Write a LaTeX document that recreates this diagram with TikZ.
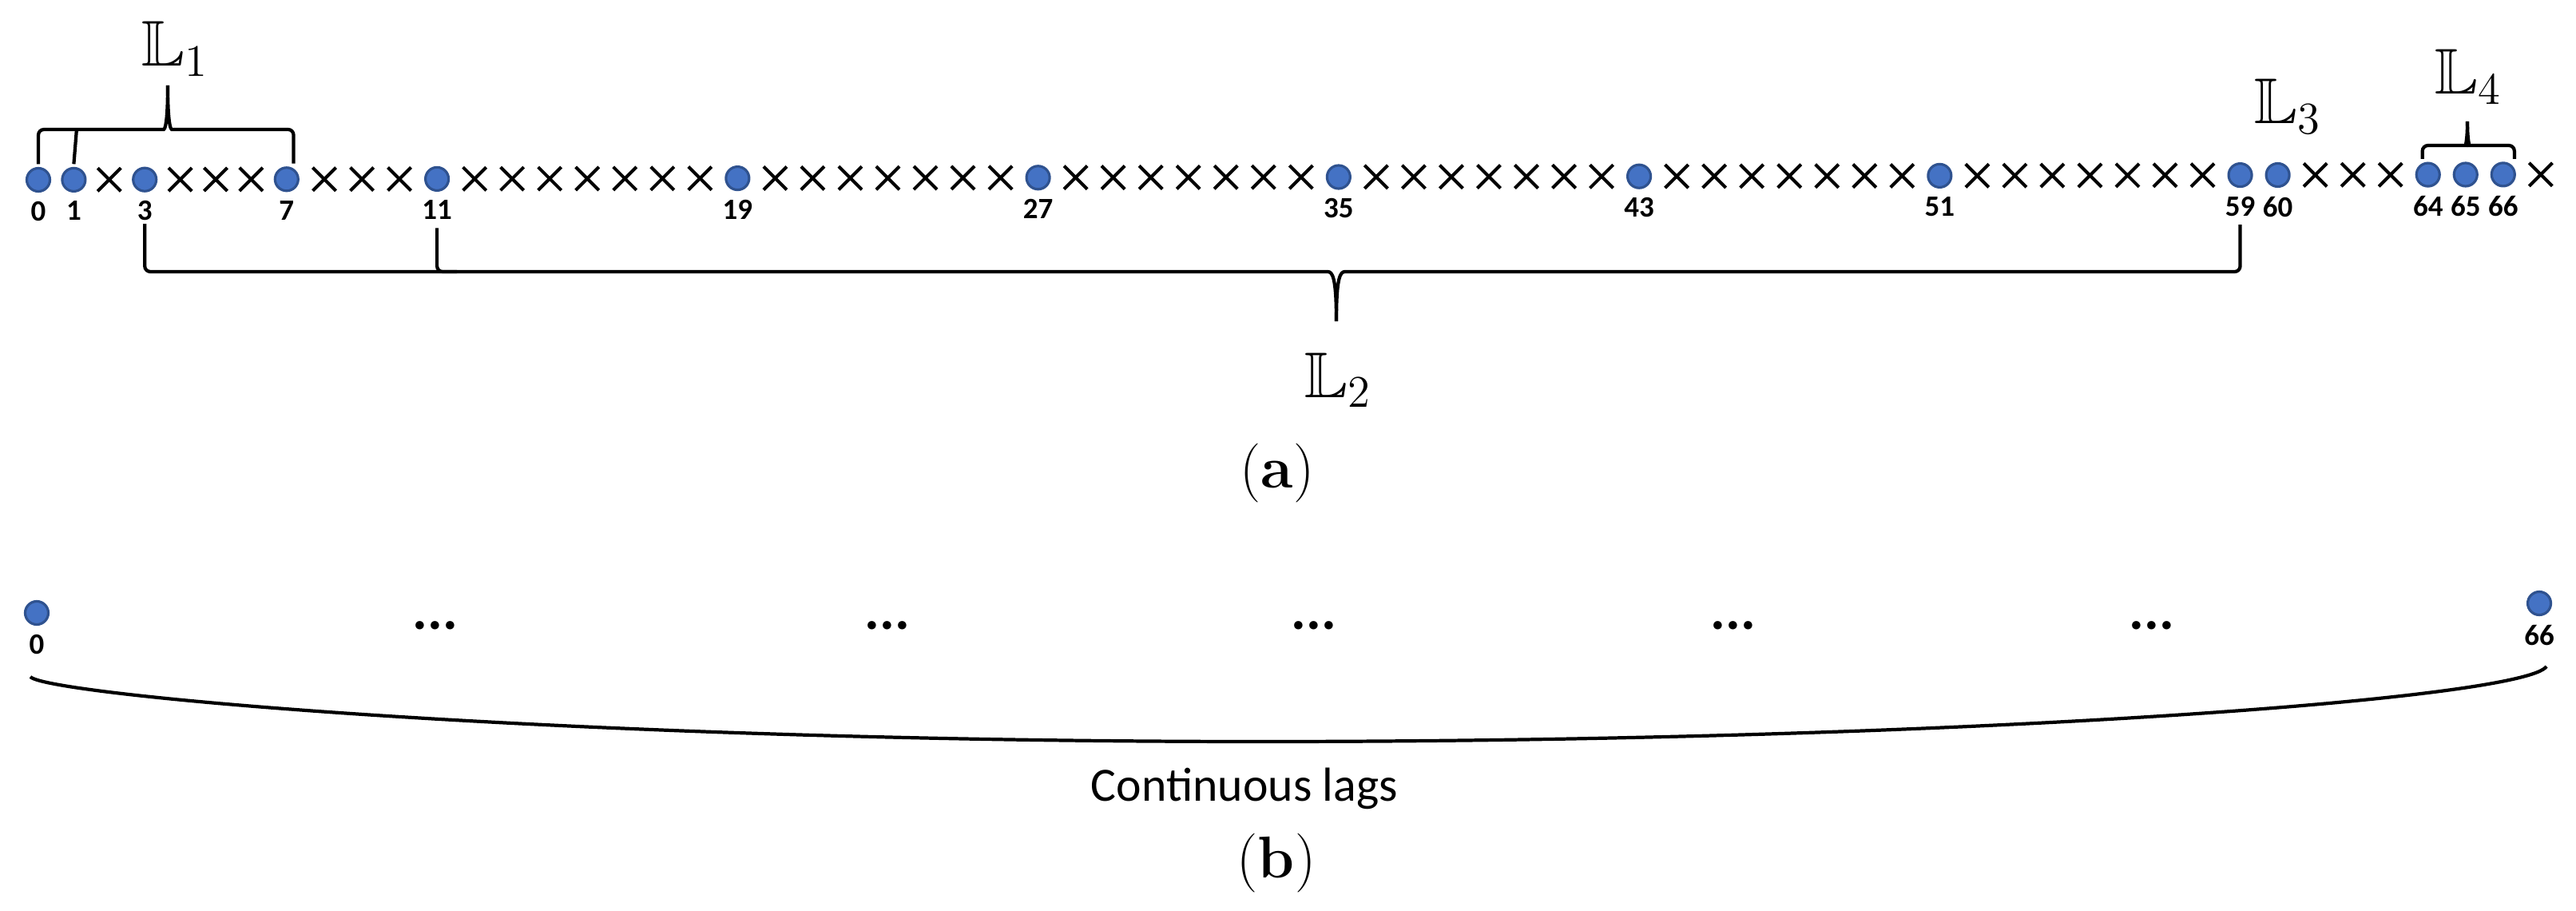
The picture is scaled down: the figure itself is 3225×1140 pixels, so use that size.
\RequirePackage{fix-cm}
\documentclass[tikz,border=0pt]{standalone}
\usepackage{fontspec}
\usepackage{amssymb}
\newfontfamily\calib{Carlito}
\usetikzlibrary{positioning,calc,shapes.misc}
\definecolor{lagblue}{RGB}{68,114,196}
\definecolor{lagedge}{RGB}{47,82,143}

\begin{document}
\begin{tikzpicture}[
  x=0.01cm, y=-0.01cm,
  lag/.style={circle, fill=lagblue, draw=lagedge, line width=0.9pt,
              minimum size=0.29cm, inner sep=0pt},
  miss/.style={cross out, draw, line width=1.15pt, minimum size=0.25cm,
               inner sep=0pt},
  lagnum/.style={font=\calib\bfseries\fontsize{10.5}{12}\selectfont, inner sep=0pt},
  setname/.style={font=\fontsize{23}{26}\selectfont, inner sep=0pt},
  gap/.style={font=\calib\bfseries\fontsize{20}{22}\selectfont, inner sep=0pt},
  bracket/.style={line width=1.2pt},
  panel/.style={font=\fontsize{21}{24}\selectfont, inner sep=0pt},
]
  \useasboundingbox (0,0) rectangle (3225,1140);
  % Panel (a): sampled lags and skipped lags
  \foreach \k in {0,...,67} {
    \pgfmathsetmacro{\lx}{ifthenelse(\k<8, 48+44.4*\k, 359+47.03*(\k-7))}
    \pgfmathsetmacro{\ly}{225-0.1*\k}
    \pgfmathtruncatemacro{\isdot}{ifthenelse(((\k<4) && (\k!=2)) || (\k==7)
      || ((\k>10) && (\k<61) && (mod(\k-11,8)==0)) || (\k==60)
      || ((\k>63) && (\k<67)), 1, 0)}
    \ifnum\isdot=1
      \node[lag] (a\k) at (\lx,\ly) {};
      \node[lagnum, below=1mm of a\k] (la\k) {\k};
    \else
      \node[miss] (x\k) at (\lx,\ly) {};
    \fi
  }
  % Set L1 (above)
  \coordinate (l1) at (0,162);
  \coordinate (t1) at (210,107);
  \draw[bracket] ([yshift=1pt]a0.north) [rounded corners=2pt] |- (198,162)
    [sharp corners] .. controls (206,162) and (210,157) .. (t1);
  \draw[bracket] ([xshift=2.5pt,yshift=1pt]a7.north) [rounded corners=2pt] |- (222,162)
    [sharp corners] .. controls (214,162) and (210,157) .. (t1);
  \draw[bracket] ([yshift=1pt]a1.north) -- ([xshift=1pt]a1.north |- l1);
  \node[setname, anchor=base west] (s1) at (177,83) {$\mathbb{L}_1$};
  % Set L2 (below)
  \coordinate (l2) at (0,340);
  \coordinate (t2) at (1673,402);
  \draw[bracket] ([yshift=-1pt]la3.south) [rounded corners=2pt] |- (1655,340)
    [sharp corners] .. controls (1668,340) and (1673,346) .. (t2);
  \draw[bracket] ([yshift=-1mm]la59.south) [rounded corners=2pt] |- (1691,340)
    [sharp corners] .. controls (1678,340) and (1673,346) .. (t2);
  \draw[bracket] ([yshift=-1mm]la11.south) [rounded corners=2pt]
    |- ($(la11.south |- l2)+(25,0)$);
  \node[setname, anchor=base west] (s2) at (1633,497) {$\mathbb{L}_2$};
  % Set L3
  \node[setname, anchor=base west] (s3) at (2822,155) {$\mathbb{L}_3$};
  % Set L4 (above)
  \coordinate (t4) at (3089,152);
  \draw[bracket] ([xshift=-2pt,yshift=1pt]a64.north) [rounded corners=2pt] |- (3080,182)
    [sharp corners] .. controls (3086,182) and (3089,178) .. (t4);
  \draw[bracket] ([xshift=4pt,yshift=1pt]a66.north) [rounded corners=2pt] |- (3098,182)
    [sharp corners] .. controls (3092,182) and (3089,178) .. (t4);
  \node[setname, anchor=base west] (s4) at (3048,118) {$\mathbb{L}_4$};
  \node[panel] (capa) at (1599,592) {(\textbf{a})};
  % Panel (b): continuous lags
  \node[lag] (b0) at (46,767) {};
  \node[lagnum, below=1mm of b0] (lb0) {0};
  \node[lag] (b66) at (3179,755) {};
  \node[lagnum, below=1mm of b66] (lb66) {66};
  \foreach \gx [count=\i] in {545,1111,1645,2170,2694}
    \node[gap, anchor=base] (g\i) at (\gx,787) {...};
  \coordinate (cl) at (1580,928);
  \draw[bracket] ($(lb0.south)+(-8,28)$) .. controls (60,870) and (700,928) .. (cl)
    .. controls (2450,928) and (3160,875) .. ($(lb66.south)+(9,26)$);
  \node[font=\calib\fontsize{17}{20}\selectfont, anchor=base] (cont) at (1558,1002)
    {Continuous lags};
  \node[panel] (capb) at (1598,1080) {(\textbf{b})};
\end{tikzpicture}
\end{document}
